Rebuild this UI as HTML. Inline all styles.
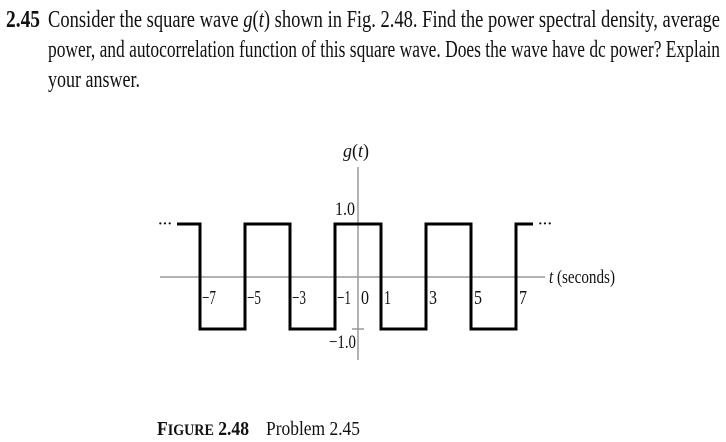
<!DOCTYPE html>
<html><head><meta charset="utf-8"><style>
html,body{margin:0;padding:0;background:#fff;width:726px;height:442px;overflow:hidden}
svg{display:block}
text{font-family:"Liberation Serif",serif;fill:#111}
</style></head><body>
<svg width="726" height="442" viewBox="0 0 726 442" xmlns="http://www.w3.org/2000/svg">
<text x="6" y="27" font-size="24" font-weight="bold" textLength="34" lengthAdjust="spacingAndGlyphs">2.45</text>
<text x="48" y="27" font-size="24" textLength="672" lengthAdjust="spacingAndGlyphs">Consider the square wave <tspan font-style="italic">g</tspan>(<tspan font-style="italic">t</tspan>) shown in Fig. 2.48. Find the power spectral density, average</text>
<text x="48" y="57" font-size="24" textLength="672" lengthAdjust="spacingAndGlyphs">power, and autocorrelation function of this square wave. Does the wave have dc power? Explain</text>
<text x="48" y="87" font-size="24" textLength="92" lengthAdjust="spacingAndGlyphs">your answer.</text>

<line x1="160" y1="277" x2="545" y2="277" stroke="#999" stroke-width="1.5"/>
<line x1="358" y1="167" x2="358" y2="360" stroke="#999" stroke-width="1.5"/>
<line x1="352" y1="329" x2="364" y2="329" stroke="#999" stroke-width="1.5"/>
<polyline fill="none" stroke="#000" stroke-width="3" points="177,224 200,224 200,329 245,329 245,224 290,224 290,329 335,329 335,224 381,224 381,329 426,329 426,224 471,224 471,329 516,329 516,224 533,224"/>
<text x="158" y="228" font-size="14" font-weight="bold">···</text>
<text x="538" y="228" font-size="14" font-weight="bold">···</text>

<text x="343" y="157" font-size="19" textLength="26" lengthAdjust="spacingAndGlyphs"><tspan font-style="italic">g</tspan>(<tspan font-style="italic">t</tspan>)</text>
<text x="335" y="215" font-size="19" textLength="20" lengthAdjust="spacingAndGlyphs">1.0</text>
<text x="329" y="348" font-size="19" textLength="27" lengthAdjust="spacingAndGlyphs">−1.0</text>
<text x="549" y="283" font-size="19" textLength="66" lengthAdjust="spacingAndGlyphs"><tspan font-style="italic">t</tspan> (seconds)</text>
<g font-size="20">
<text x="202" y="304" textLength="14" lengthAdjust="spacingAndGlyphs">−7</text>
<text x="247" y="304" textLength="14" lengthAdjust="spacingAndGlyphs">−5</text>
<text x="292" y="304" textLength="14" lengthAdjust="spacingAndGlyphs">−3</text>
<text x="337" y="304" textLength="14" lengthAdjust="spacingAndGlyphs">−1</text>
<text x="361" y="304" textLength="8" lengthAdjust="spacingAndGlyphs">0</text>
<text x="384" y="304" textLength="7" lengthAdjust="spacingAndGlyphs">1</text>
<text x="429" y="304" textLength="8" lengthAdjust="spacingAndGlyphs">3</text>
<text x="474" y="304" textLength="8" lengthAdjust="spacingAndGlyphs">5</text>
<text x="519" y="304" textLength="8" lengthAdjust="spacingAndGlyphs">7</text>
</g>
<text x="157" y="435" font-size="20" font-weight="bold" textLength="92" lengthAdjust="spacingAndGlyphs">F<tspan font-size="16">IGURE</tspan> 2.48</text>
<text x="266" y="435" font-size="20" textLength="94" lengthAdjust="spacingAndGlyphs">Problem 2.45</text>
</svg>
</body></html>
